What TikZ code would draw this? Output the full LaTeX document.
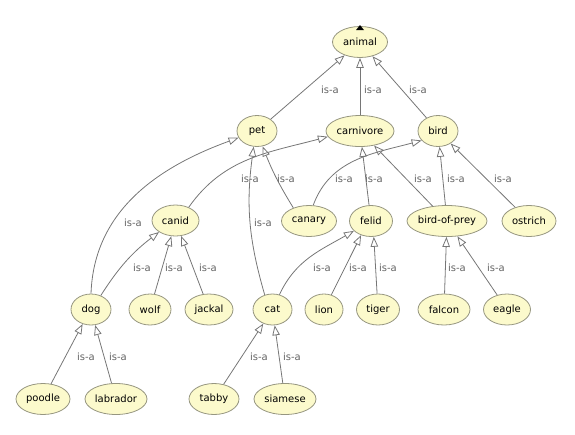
\documentclass[tikz,border=0pt]{standalone}
\usepackage{fontspec}
\setmainfont{DejaVu Sans}
\usetikzlibrary{shapes.geometric, arrows.meta}

\definecolor{nodefill}{RGB}{252,250,204}
\definecolor{nodeline}{RGB}{150,150,128}
\definecolor{edgeline}{RGB}{118,118,118}
\definecolor{labeltext}{RGB}{100,100,100}

\begin{document}
\begin{tikzpicture}[x=1pt, y=1pt,
        concept/.style={ellipse, draw=nodeline, fill=nodefill, line width=0.8pt,
            inner xsep=-1.5pt, inner ysep=0pt, minimum height=31pt,
            font=\fontsize{10}{12}\selectfont},
        isa/.style={draw=edgeline, line width=0.8pt,
            -{Triangle[open, length=10pt, width=7.5pt]}},
        isalabel/.style={text=labeltext, inner sep=0pt,
            font=\fontsize{10}{12}\selectfont}]

        \useasboundingbox (0,0) rectangle (575,-434);

        % ====================
        % 1. Concepts, row by row
        % ====================
        \foreach \name/\txt/\x/\y/\w in {
            animal/animal/360/42/55,
            pet/pet/257/131/40, carnivore/carnivore/360/131/68, bird/bird/438/131/40,
            canid/canid/175.5/220.5/47, canary/canary/309/221/55, felid/felid/371/221/43,
            bop/bird-of-prey/447/221/80, ostrich/ostrich/529/221/54,
            dog/dog/91/309.5/40, wolf/wolf/150/309.5/42, jackal/jackal/209/309.5/48,
            cat/cat/272.5/309.5/39, lion/lion/324/309.5/38, tiger/tiger/378/309.5/43,
            falcon/falcon/444/309.5/52, eagle/eagle/507/309.5/47,
            poodle/poodle/43/399/54, labrador/labrador/116/399/62,
            tabby/tabby/214/399/50, siamese/siamese/285/399/62} {
            \node[concept, minimum width=\w pt] (\name) at (\x,-\y) {\txt};
        }

        % small filled tip on top of the root
        \fill ([yshift=-4pt]animal.north) +(-4,0) -- +(4,0) -- +(0,5) -- cycle;

        % ====================
        % 2. is-a links
        % ====================
        \draw[isa] (pet) -- (animal);
        \draw[isa] (carnivore) -- (animal);
        \draw[isa] (bird) -- (animal);

        \draw[isa] (dog.90) to[out=88, in=200] (pet.200);
        \draw[isa] (cat.118) to[bend left=12] (pet.258);
        \draw[isa] (canary.140) to[bend left=5] (pet.290);
        \draw[isa] (canid.45) to[out=55, in=195] (carnivore.190);
        \draw[isa] (felid) -- (carnivore);
        \draw[isa] (bop) -- (carnivore);
        \draw[isa] (canary.75) to[out=70, in=195] (bird.210);
        \draw[isa] (bop) -- (bird);
        \draw[isa] (ostrich) -- (bird);

        \draw[isa] (dog.55) to[bend left=10] (canid.215);
        \draw[isa] (wolf) -- (canid.255);
        \draw[isa] (jackal) -- (canid.290);
        \draw[isa] (cat.65) to[out=65, in=210] (felid.210);
        \draw[isa] (lion) -- (felid.235);
        \draw[isa] (tiger) -- (felid.280);
        \draw[isa] (falcon) -- (bop);
        \draw[isa] (eagle) -- (bop);

        \draw[isa] (poodle) -- (dog.240);
        \draw[isa] (labrador) -- (dog.285);
        \draw[isa] (tabby) -- (cat);
        \draw[isa] (siamese) -- (cat);

        % ====================
        % 3. Link labels
        % ====================
        \foreach \x/\y [count=\i] in {330/90, 373/90, 418/90,
            250/179, 286/179, 344/179, 374/179, 423/179, 456/179, 503/179,
            133/223, 263/223,
            142/268, 174/268, 208/268, 322/268, 358/268, 388/268, 457/268, 496/268,
            86/357, 118/357, 259/357, 292/357} {
            \node[isalabel] (lab\i) at (\x,-\y) {is-a};
        }

    \end{tikzpicture}
\end{document}
